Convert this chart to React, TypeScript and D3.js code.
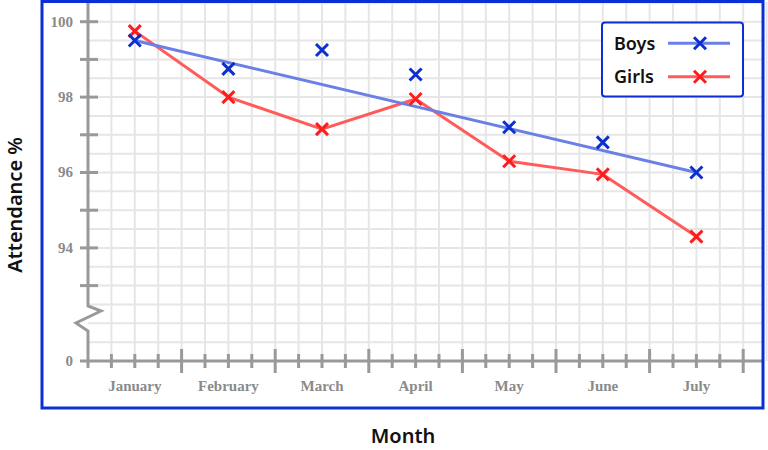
import * as d3 from "d3";

// chart values
const months = ["January", "February", "March", "April", "May", "June", "July"];
const boys = [99.5, 98.75, 99.25, 98.6, 97.2, 96.8, 96.0];
const girls = [99.75, 98.0, 97.15, 97.95, 96.3, 95.95, 94.3];
// straight blue trend line for the boys
const boysTrendMonths = ["January", "July"];
const boysTrend = [99.5, 96.0];
const yLabels = [100, 98, 96, 94];
const yMinor = [99, 97, 95, 93];

const W = 768;
const H = 450;
const AXIS_X = 88;
const AXIS_Y = 361;
const GREY = "#999999";
const GRID = "#e6e6e6";

const BOYS_LINE = "#6a80e6";
const BOYS_MARK = "#0b2fd0";
const GIRLS_LINE = "#ff5b5b";
const GIRLS_MARK = "#ff1c1c";

const x = d3.scaleLinear().domain([-0.5, 6.5]).range([AXIS_X, 743.2]);
const y = d3.scaleLinear().domain([91, 100]).range([AXIS_Y, 21.7]);
const monthX = (m: string) => x(months.indexOf(m));

const cross = (cx: number, cy: number, s = 6) =>
  `M${cx - s},${cy - s}L${cx + s},${cy + s}M${cx - s},${cy + s}L${cx + s},${cy - s}`;

const App = () => {
  const line = d3
    .line<number>()
    .x((_, i) => x(i))
    .y((d) => y(d));

  const trend = d3
    .line<number>()
    .x((_, i) => monthX(boysTrendMonths[i]))
    .y((d) => y(d));

  const vGrid = d3.range(-0.25, 7.3, 0.25);
  const hGrid = d3.range(91.5, 100.6, 0.5);
  const xTicks = d3.range(-0.25, 6.51, 0.25);

  return (
    <svg
      width={W}
      height={H}
      style={{ position: "absolute", left: 0, top: 0, background: "#fff" }}
    >
      {/* grid */}
      <g stroke={GRID} strokeWidth={2}>
        {vGrid.map((v) => (
          <line key={"v" + v} x1={x(v)} x2={x(v)} y1={2} y2={AXIS_Y} />
        ))}
        {hGrid.map((v) => (
          <line key={"h" + v} x1={AXIS_X} x2={762} y1={y(v)} y2={y(v)} />
        ))}
      </g>

      {/* y axis with break */}
      <g stroke={GREY} strokeWidth={3} fill="none">
        <path
          d={`M${AXIS_X},2L${AXIS_X},306L101,311L76,323L${AXIS_X},331L${AXIS_X},368`}
          strokeLinejoin="miter"
        />
        {[...yLabels, ...yMinor].map((v) => (
          <line key={"yt" + v} x1={80} x2={98} y1={y(v)} y2={y(v)} />
        ))}
        <line x1={80} x2={762} y1={AXIS_Y} y2={AXIS_Y} />
        {xTicks.map((v) => {
          const major = Math.abs((v + 0.5) % 1) < 1e-6;
          return (
            <line
              key={"xt" + v}
              x1={x(v)}
              x2={x(v)}
              y1={major ? AXIS_Y - 12 : AXIS_Y - 7}
              y2={major ? AXIS_Y + 12 : AXIS_Y + 7}
            />
          );
        })}
      </g>

      <g
        fill="#8a8a8a"
        fontFamily="'Liberation Serif', 'Times New Roman', serif"
        fontWeight="bold"
        fontSize={15}
      >
        {yLabels.map((v) => (
          <text key={"yl" + v} x={73} y={y(v)} dy="0.33em" textAnchor="end">
            {v}
          </text>
        ))}
        <text x={73} y={AXIS_Y} dy="0.33em" textAnchor="end">
          0
        </text>
        {months.map((m) => (
          <text key={m} x={monthX(m)} y={391} textAnchor="middle">
            {m}
          </text>
        ))}
      </g>

      {/* series */}
      <path
        d={line(girls) ?? ""}
        fill="none"
        stroke={GIRLS_LINE}
        strokeWidth={3}
        strokeLinejoin="round"
      />
      <path
        d={trend(boysTrend) ?? ""}
        fill="none"
        stroke={BOYS_LINE}
        strokeWidth={3}
      />
      {girls.map((v, i) => (
        <path key={"g" + i} d={cross(x(i), y(v))} stroke={GIRLS_MARK} strokeWidth={3} />
      ))}
      {boys.map((v, i) => (
        <path key={"b" + i} d={cross(x(i), y(v))} stroke={BOYS_MARK} strokeWidth={3} />
      ))}

      {/* legend */}
      <g fontFamily="'Noto Sans', sans-serif" fontWeight={600} fontSize={18} fill="#111">
        <rect
          x={602}
          y={22.5}
          width={141}
          height={74}
          rx={3}
          fill="#fff"
          stroke={BOYS_MARK}
          strokeWidth={2}
        />
        <text x={614} y={50}>Boys</text>
        <line x1={668} x2={730} y1={43.3} y2={43.3} stroke={BOYS_LINE} strokeWidth={3} />
        <path d={cross(700, 43.3)} stroke={BOYS_MARK} strokeWidth={3} />
        <text x={614} y={83}>Girls</text>
        <line x1={668} x2={730} y1={76.7} y2={76.7} stroke={GIRLS_LINE} strokeWidth={3} />
        <path d={cross(700, 76.7)} stroke={GIRLS_MARK} strokeWidth={3} />
      </g>

      {/* frame */}
      <rect x={42} y={1.5} width={721} height={406.5} fill="none" stroke="#0a30d4" strokeWidth={3} />

      {/* axis titles */}
      <g fontFamily="'Noto Sans', sans-serif" fontWeight={600} fontSize={20} fill="#111">
        <text x={403} y={443} textAnchor="middle">
          Month
        </text>
        <text transform="translate(22,205) rotate(-90)" textAnchor="middle">
          Attendance %
        </text>
      </g>
    </svg>
  );
};

export default App;
